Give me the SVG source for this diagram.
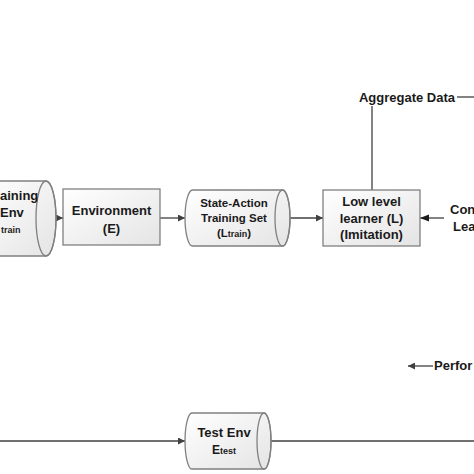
<svg xmlns="http://www.w3.org/2000/svg" width="474" height="474" viewBox="0 0 474 474">
<defs>
<linearGradient id="g" x1="0" y1="0" x2="1" y2="1">
<stop offset="0" stop-color="#ffffff"/>
<stop offset="1" stop-color="#e4e4e4"/>
</linearGradient>
<marker id="ah" viewBox="0 0 10 10" refX="10" refY="5" markerWidth="7" markerHeight="7" markerUnits="userSpaceOnUse" orient="auto">
<path d="M0,0 L10,5 L0,10 Z" fill="#404040"/>
</marker>
<marker id="ahb" viewBox="0 0 10 10" refX="10" refY="5" markerWidth="9" markerHeight="9" markerUnits="userSpaceOnUse" orient="auto">
<path d="M0,1 L10,5 L0,9 Z" fill="#1a1a1a"/>
</marker>
</defs>
<style>
.n{fill:url(#g);stroke:#808080;stroke-width:1.3}
.e{fill:none;stroke:#808080;stroke-width:1.3}
.t{font-family:"Liberation Sans",Arial,sans-serif;font-weight:bold;font-size:13px;fill:#1a1a1a;text-anchor:middle}
.l{text-anchor:start}
.s{font-size:9px}
.c{fill:none;stroke:#404040;stroke-width:1.3}
</style>
<rect width="474" height="474" fill="#ffffff"/>
<g id="connectors">
<line class="c" x1="46" y1="218" x2="63" y2="218" marker-end="url(#ah)"/>
<line class="c" x1="160" y1="218" x2="185" y2="218" marker-end="url(#ah)"/>
<line class="c" x1="283" y1="218" x2="323" y2="218" marker-end="url(#ah)"/>
<line class="c" x1="372" y1="190" x2="372" y2="106"/>
<line class="c" x1="457" y1="97" x2="474" y2="97"/>
<line class="c" x1="444" y1="218" x2="420" y2="218" stroke="#1a1a1a" marker-end="url(#ahb)"/>
<line class="c" x1="433" y1="366" x2="408" y2="366" marker-end="url(#ah)"/>
<line class="c" x1="0" y1="441" x2="185" y2="441" marker-end="url(#ah)"/>
<line class="c" x1="271" y1="441" x2="474" y2="441"/>
</g>
<g id="training-env">
<path class="n" d="M-20,181 L46,181 A10,37.5 0 0 1 46,256 L-20,256 Z"/>
<ellipse class="e" cx="46" cy="218.5" rx="10" ry="37.5"/>
<text class="t l" x="0" y="200">aining</text>
<text class="t l" x="0" y="217">Env</text>
<text class="t l s" x="1" y="233">train</text>
</g>
<g id="environment">
<rect class="n" x="63" y="189" width="97" height="56"/>
<text class="t" x="111.5" y="215">Environment</text>
<text class="t" x="111.5" y="233">(E)</text>
</g>
<g id="state-action">
<path class="n" d="M192.5,190 L282.5,190 A7.5,28 0 0 1 282.5,246 L192.5,246 A7.5,28 0 0 1 192.5,190 Z"/>
<ellipse class="e" cx="282.5" cy="218" rx="7.5" ry="28"/>
<text class="t" x="234" y="207" style="font-size:11.5px">State-Action</text>
<text class="t" x="234" y="222" style="font-size:11.5px">Training Set</text>
<text class="t" x="234" y="237" style="font-size:11.5px">(L<tspan class="s">train</tspan>)</text>
</g>
<g id="low-level-learner">
<rect class="n" x="323" y="190" width="97" height="56"/>
<text class="t" x="371.5" y="206">Low level</text>
<text class="t" x="371.5" y="223">learner (L)</text>
<text class="t" x="371.5" y="239">(Imitation)</text>
</g>
<g id="aggregate-data">
<text class="t" x="407" y="102">Aggregate Data</text>
</g>
<g id="right-learner">
<text class="t l" x="450" y="214">Con</text>
<text class="t l" x="453" y="231">Lea</text>
</g>
<g id="performance">
<text class="t l" x="434" y="370">Perfor</text>
</g>
<g id="test-env">
<path class="n" d="M192,413 L264,413 A7,28 0 0 1 264,469 L192,469 A7,28 0 0 1 192,413 Z"/>
<ellipse class="e" cx="264" cy="441" rx="7" ry="28"/>
<text class="t" x="224" y="437">Test Env</text>
<text class="t" x="224" y="454" style="font-size:12px">E<tspan class="s">test</tspan></text>
</g>
</svg>
